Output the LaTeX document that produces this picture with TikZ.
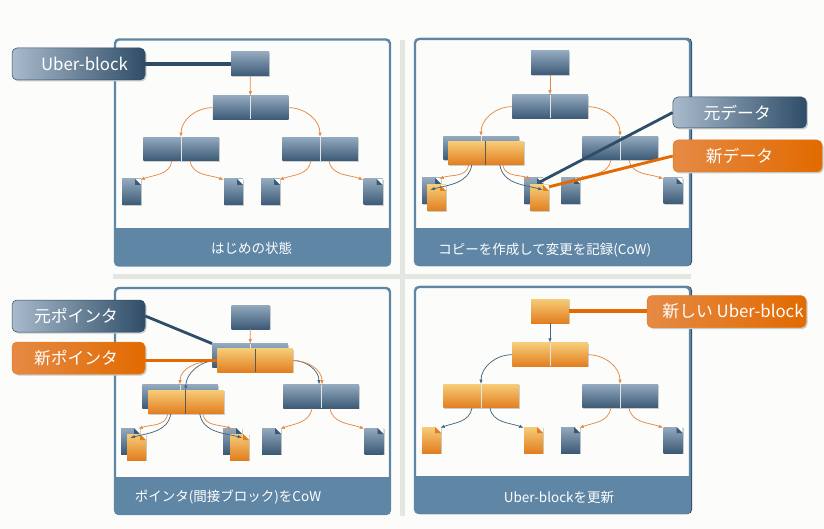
\documentclass[tikz,border=0pt]{standalone}
\usepackage{fontspec}
\setmainfont{Noto Sans CJK JP}
\definecolor{bgc}{HTML}{FCFDFA}
\definecolor{framec}{HTML}{5F86A5}
\definecolor{framed}{HTML}{2F4D68}
\definecolor{dividerc}{HTML}{E4E6E2}
\definecolor{shadowc}{HTML}{C9CDCB}
\definecolor{bluetop}{HTML}{93A9BE}
\definecolor{bluebot}{HTML}{3C5A76}
\definecolor{orgtop}{HTML}{F6CC78}
\definecolor{orgbot}{HTML}{E27E1F}
\definecolor{arro}{HTML}{E58A45}
\definecolor{arrd}{HTML}{47667F}
\definecolor{linkb}{HTML}{2F4D68}
\definecolor{linko}{HTML}{E26A00}
\usetikzlibrary{arrows.meta}
\tikzset{
  shadowed/.style={preaction={draw=none,fill=shadowc,transform canvas={shift={(1pt,-1pt)}}}},
  panelbox/.style={draw=framec,line width=2.4pt,fill=bgc,rounded corners=4pt,inner sep=0pt,
    minimum width=275pt,minimum height=226pt,
    path picture={\fill[framec,sharp corners] (path picture bounding box.south west) rectangle ([yshift=37pt]path picture bounding box.south east);}},
  paneldark/.style={panelbox,preaction={draw=framed,line width=2.4pt,transform canvas={shift={(1pt,0pt)}}}},
  caption/.style={text=white,font=\fontsize{13.5}{15}\selectfont,inner sep=0pt},
  blueshade/.style={top color=bluetop,bottom color=bluebot,shadowed},
  orgshade/.style={top color=orgtop,bottom color=orgbot,shadowed},
  rootb/.style={rectangle,inner sep=0pt,minimum width=38pt,minimum height=24pt,blueshade},
  rooto/.style={rectangle,inner sep=0pt,minimum width=38pt,minimum height=24pt,orgshade},
  dbl/.style={rectangle,inner sep=0pt,minimum width=75.5pt,minimum height=23.5pt,
    path picture={\draw[#1,line width=.8pt] (path picture bounding box.north) -- (path picture bounding box.south);}},
  dblb/.style={dbl=dividerc,blueshade},
  dblo/.style={dbl=dividerc,orgshade},
  dblc/.style={dbl=framed!75!orgbot,orgshade},
  filebase/.style={rectangle,inner sep=0pt,minimum width=19pt,minimum height=26pt,
    path picture={
      \fill[bgc] ([xshift=-6pt]path picture bounding box.north east) -- (path picture bounding box.north east) -- ([yshift=-6pt]path picture bounding box.north east) -- cycle;
      \fill[#1] ([xshift=-6pt]path picture bounding box.north east) -- ([xshift=-6pt,yshift=-6pt]path picture bounding box.north east) -- ([yshift=-6pt]path picture bounding box.north east) -- cycle;}},
  fileb/.style={filebase=bluebot,blueshade},
  fileo/.style={filebase=orgbot,orgshade},
  oarr/.style={draw=arro,line width=.75pt,-{Latex[length=4.5pt,width=3.5pt]}},
  darr/.style={draw=arrd,line width=.75pt,-{Latex[length=4.5pt,width=3.5pt]}},
  calloutb/.style={rectangle,rounded corners=5pt,draw=framed,line width=.5pt,left color=bluetop!80!white,right color=linkb,
    text=white,inner sep=0pt,minimum height=32pt,font=\fontsize{16.8}{18}\selectfont,
    preaction={draw=none,fill=shadowc,transform canvas={shift={(1.5pt,-1.5pt)}}}},
  callouto/.style={rectangle,rounded corners=5pt,draw=orgbot,line width=.5pt,left color=arro,right color=linko,
    text=white,inner sep=0pt,minimum height=32pt,font=\fontsize{16.8}{18}\selectfont,
    preaction={draw=none,fill=shadowc,transform canvas={shift={(1.5pt,-1.5pt)}}}},
  linkbl/.style={draw=linkb,line width=2.8pt},
  linkor/.style={draw=linko,line width=2.9pt},
  linkflat/.style={line width=3.6pt},
}
\newcommand{\filearrows}[4]{%
  \draw[#4] ([xshift=-9pt]#1.south) to[out=-100,in=20] ([xshift=-1pt,yshift=-1pt]#2.north east);
  \draw[#4] ([xshift=9pt]#1.south) to[out=-80,in=160] ([yshift=-1pt]#3.north west);
}
\begin{document}
\begin{tikzpicture}[x=1pt,y=-1pt]
\useasboundingbox (0,0) rectangle (824,529);
\fill[bgc] (0,0) rectangle (824,529);
% dividers
\fill[dividerc] (399.5,40) rectangle (404.5,516);
\fill[dividerc] (113,274) rectangle (691,279);

% ---------- panel 1
\node[panelbox] (p1) at (252.5,152.5) {};
\node[caption] (c1) at (251.5,248) {はじめの状態};
\node[rootb] (a0) at (250,64) {};
\node[dblb] (a1) at (250.5,107.7) {};
\node[dblb] (a2) at (181,149) {};
\node[dblb] (a3) at (320,149) {};
\node[fileb] (a4) at (131.5,192) {};
\node[fileb] (a5) at (233.5,192) {};
\node[fileb] (a6) at (270.5,192) {};
\node[fileb] (a7) at (373,192) {};
\draw[oarr] (a0) -- (a1);
\draw[oarr] (a1.west) to[out=180,in=90] (a2.north);
\draw[oarr] (a1.east) to[out=0,in=90] (a3.north);
\filearrows{a2}{a4}{a5}{oarr}
\filearrows{a3}{a6}{a7}{oarr}
\node[calloutb,minimum width=133pt] (n1) at (78.5,64) {\hspace*{12pt}Uber-block};
\draw[linkbl,linkflat] (n1.east) -- (a0.west);

% ---------- panel 2
\node[paneldark] (p2) at (552.5,152) {};
\node[caption] (c2) at (544.7,250) {コピーを作成して変更を記録(CoW)};
\node[rootb] (b0) at (550,63) {};
\node[dblb] (b1) at (550,106.7) {};
\node[dblb] (b2) at (481,148) {};
\node[dblb] (b3) at (620,148) {};
\node[fileb] (b4) at (431.5,191) {};
\node[fileb] (b5) at (533.5,191) {};
\node[fileb] (b6) at (570.5,191) {};
\node[fileb] (b7) at (673,191) {};
\draw[oarr] (b0) -- (b1);
\draw[oarr] (b1.west) to[out=180,in=90] (b2.north);
\draw[oarr] (b1.east) to[out=0,in=90] (b3.north);
\filearrows{b3}{b6}{b7}{oarr}
\node[fileo] (b8) at (436.5,198) {};
\node[fileo] (b9) at (539.5,198) {};
\node[dblc] (b10) at (485.8,153) {};
\draw[oarr] ([xshift=-17pt]b10.south) to[out=-100,in=20] ([xshift=-2pt,yshift=-1pt]b4.north east);
\draw[oarr] ([xshift=17pt]b10.south) to[out=-80,in=160] ([xshift=7pt,yshift=-1pt]b5.north west);
\draw[darr] ([xshift=-14pt]b10.south) to[out=-100,in=15] ([xshift=3.5pt,yshift=-5pt]b8.north west);
\draw[darr] ([xshift=14pt]b10.south) to[out=-80,in=165] ([xshift=-6.5pt,yshift=-5pt]b9.north east);
\node[calloutb,minimum width=133.5pt,minimum height=31pt] (n2) at (739.7,112.5) {元データ\hspace*{5pt}};
\node[callouto,minimum width=149pt] (n3) at (747.5,156) {新データ\hspace*{16pt}};
\draw[linkbl] (n2.west) -- ([xshift=-3pt,yshift=-4pt]b5.north east);
\draw[linkor] (n3.west) -- ([yshift=-2pt]b9.north east);

% ---------- panel 3
\node[panelbox] (p3) at (252.5,401) {};
\node[caption] (c3) at (228,497) {ポインタ(間接ブロック)をCoW};
\node[rootb] (d0) at (250.5,317) {};
\node[dblb] (d1) at (250,355.5) {};
\node[dblb] (d2) at (180,396.5) {};
\node[dblb] (d3) at (321,396.5) {};
\node[fileb] (d4) at (130.5,441) {};
\node[fileb] (d5) at (232.5,441) {};
\node[fileb] (d6) at (271.5,441) {};
\node[fileb] (d7) at (374,441) {};
\draw[oarr] (d0) -- (d1);
\filearrows{d3}{d6}{d7}{oarr}
\node[fileo] (d8) at (136.5,447) {};
\node[fileo] (d9) at (239.5,447) {};
\node[dblc] (d10) at (185.8,402) {};
\node[dblc] (d11) at (255,360.5) {};
\draw[oarr] (d11.west) to[out=180,in=90] (d2.north);
\draw[darr] (d11.west) to[out=180,in=90] (d10.north);
\draw[darr] (d11.east) to[out=0,in=90] ([xshift=-2pt]d3.north);
\draw[oarr] (d11.east) to[out=0,in=90] ([xshift=1pt]d3.north);
\draw[oarr] ([xshift=-18pt]d10.south) to[out=-100,in=20] ([xshift=-2pt,yshift=-1pt]d4.north east);
\draw[oarr] ([xshift=17pt]d10.south) to[out=-80,in=160] ([xshift=9pt,yshift=-1pt]d5.north west);
\draw[darr] ([xshift=-15pt]d10.south) to[out=-100,in=15] ([xshift=3.5pt,yshift=-4pt]d8.north west);
\draw[darr] ([xshift=14pt]d10.south) to[out=-80,in=165] ([xshift=-7pt,yshift=-4pt]d9.north east);
\node[calloutb,minimum width=133pt] (n4) at (78.5,316) {元ポインタ\hspace*{5pt}};
\node[callouto,minimum width=133pt] (n5) at (78.5,358) {新ポインタ\hspace*{5pt}};
\draw[linkbl] (n4.east) -- (d1.north west);
\draw[linkor,linkflat] (n5.east |- d11.west) -- (d11.west);

% ---------- panel 4
\node[paneldark] (p4) at (552.5,400) {};
\node[caption] (c4) at (559,497) {Uber-blockを更新};
\node[rooto] (e0) at (550,311) {};
\node[dblo] (e1) at (550,354.7) {};
\node[dblo] (e2) at (481,396) {};
\node[dblb] (e3) at (620,396) {};
\node[fileo] (e4) at (431.5,440) {};
\node[fileo] (e5) at (533.5,440) {};
\node[fileb] (e6) at (570.5,440) {};
\node[fileb] (e7) at (673,440) {};
\draw[darr] (e0) -- (e1);
\draw[darr] (e1.west) to[out=180,in=90] (e2.north);
\draw[oarr] (e1.east) to[out=0,in=90] (e3.north);
\filearrows{e2}{e4}{e5}{darr}
\filearrows{e3}{e6}{e7}{oarr}
\node[callouto,minimum width=159pt] (n6) at (726.5,311.5) {\hspace*{13pt}新しい Uber-block};
\draw[linkor,linkflat] (n6.west |- e0.east) -- (e0.east);
\end{tikzpicture}
\end{document}
